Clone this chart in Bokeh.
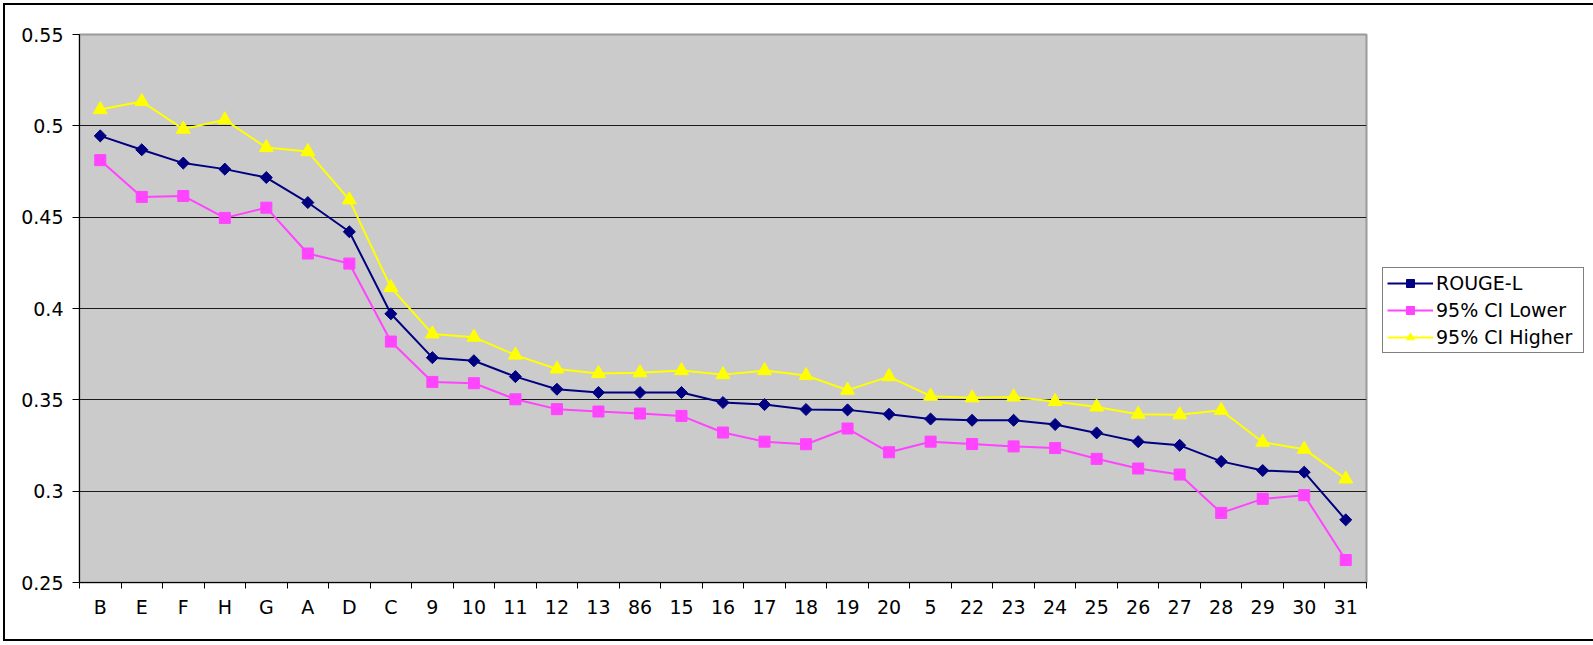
from bokeh.plotting import figure
from bokeh.models import Range1d, FixedTicker, NumeralTickFormatter, Legend, LegendItem, ColumnDataSource
from bokeh.embed import file_html
from bokeh.resources import INLINE

categories = ["B", "E", "F", "H", "G", "A", "D", "C", "9", "10", "11", "12", "13", "86", "15",
              "16", "17", "18", "19", "20", "5", "22", "23", "24", "25", "26", "27", "28", "29", "30", "31"]

rouge_l = [0.4945, 0.4869, 0.4796, 0.4763, 0.4717, 0.4580, 0.4420, 0.3971, 0.3731, 0.3714, 0.3627,
           0.3558, 0.3540, 0.3540, 0.3540, 0.3485, 0.3474, 0.3447, 0.3445, 0.3421, 0.3395, 0.3388,
           0.3388, 0.3365, 0.3319, 0.3271, 0.3251, 0.3163, 0.3113, 0.3104, 0.2843]

ci_lower = [0.4812, 0.4611, 0.4616, 0.4496, 0.4552, 0.4301, 0.4246, 0.3819, 0.3598, 0.3591, 0.3503,
            0.3449, 0.3436, 0.3425, 0.3412, 0.3321, 0.3271, 0.3257, 0.3343, 0.3213, 0.3271, 0.3258,
            0.3245, 0.3236, 0.3177, 0.3124, 0.3091, 0.2881, 0.2958, 0.2978, 0.2623]

ci_higher = [0.5089, 0.5133, 0.4982, 0.5033, 0.4881, 0.4859, 0.4595, 0.4115, 0.3861, 0.3843, 0.3745,
             0.3669, 0.3644, 0.3648, 0.3660, 0.3638, 0.3660, 0.3633, 0.3553, 0.3627, 0.3520, 0.3511,
             0.3516, 0.3491, 0.3461, 0.3421, 0.3418, 0.3443, 0.3268, 0.3230, 0.3067]

y_ticks = [0.25, 0.3, 0.35, 0.4, 0.45, 0.5, 0.55]

series_names = ["ROUGE-L", "95% CI Lower", "95% CI Higher"]

FONT = "DejaVu Sans"

n = len(categories)
centers = [i + 0.5 for i in range(n)]
bounds = [i for i in range(n + 1)]

src = ColumnDataSource(dict(x=centers, rouge=rouge_l, lower=ci_lower, higher=ci_higher))

p = figure(frame_width=1287, frame_height=548,
           output_backend="svg", toolbar_location=None,
           x_range=Range1d(0, n), y_range=Range1d(y_ticks[0], y_ticks[-1]),
           min_border_left=74, min_border_top=29, min_border_right=221, min_border_bottom=57)

p.styles = {"border": "2px solid #000000", "margin-left": "3px", "margin-top": "3px",
            "box-sizing": "content-box"}

p.background_fill_color = "#CBCBCB"
p.border_fill_color = "white"
p.outline_line_color = "#9A9A9A"
p.outline_line_width = 2

# x axis
p.xaxis.ticker = FixedTicker(ticks=centers, minor_ticks=bounds)
p.xaxis.major_label_overrides = {c: lab for c, lab in zip(centers, categories)}
p.xaxis.major_tick_line_color = None
p.xaxis.major_tick_out = 0
p.xaxis.major_tick_in = 0
p.xaxis.minor_tick_out = 6
p.xaxis.minor_tick_in = 0
p.xaxis.minor_tick_line_color = "black"
p.xaxis.major_label_standoff = 7
p.xaxis.axis_line_color = "black"
p.xaxis.major_label_text_font = FONT
p.xaxis.major_label_text_font_size = "19px"
p.xaxis.major_label_text_color = "black"

# y axis
p.yaxis.ticker = FixedTicker(ticks=y_ticks)
p.yaxis.formatter = NumeralTickFormatter(format="0.0[0]")
p.yaxis.major_tick_out = 7
p.yaxis.major_tick_in = 0
p.yaxis.minor_tick_line_color = None
p.yaxis.major_label_standoff = 9
p.yaxis.axis_line_color = "black"
p.yaxis.major_tick_line_color = "black"
p.yaxis.major_label_text_font = FONT
p.yaxis.major_label_text_font_size = "19px"
p.yaxis.major_label_text_color = "black"

p.xgrid.grid_line_color = None
p.ygrid.ticker = FixedTicker(ticks=y_ticks[1:-1])
p.ygrid.grid_line_color = "#1A1A1A"
p.ygrid.grid_line_width = 1

navy = "#000080"
pink = "#FF44FF"
yellow = "#FFFF00"

l1 = p.line("x", "rouge", source=src, line_color=navy, line_width=2)
m1 = p.scatter("x", "rouge", source=src, marker="square", angle=0.7854, size=8.5,
               fill_color=navy, line_color=navy)
l2 = p.line("x", "lower", source=src, line_color=pink, line_width=2)
m2 = p.scatter("x", "lower", source=src, marker="square", size=11, fill_color=pink, line_color=pink)
l3 = p.line("x", "higher", source=src, line_color=yellow, line_width=2)
m3 = p.scatter("x", "higher", source=src, marker="triangle", size=14, fill_color=yellow, line_color=yellow)

legend = Legend(items=[
    LegendItem(label=series_names[0], renderers=[l1, m1]),
    LegendItem(label=series_names[1], renderers=[l2, m2]),
    LegendItem(label=series_names[2], renderers=[l3, m3]),
], location=(16, 229))
legend.margin = 0
legend.padding = 4
legend.spacing = 5
legend.glyph_width = 46
legend.glyph_height = 20
legend.label_height = 20
legend.label_width = 143
legend.label_standoff = 3
legend.label_text_font = FONT
legend.label_text_font_size = "19px"
legend.label_text_color = "black"
legend.border_line_color = "black"
legend.border_line_width = 1
legend.background_fill_color = "white"
legend.background_fill_alpha = 1
p.add_layout(legend, "right")

open("out.html", "w").write(file_html(p, INLINE))
